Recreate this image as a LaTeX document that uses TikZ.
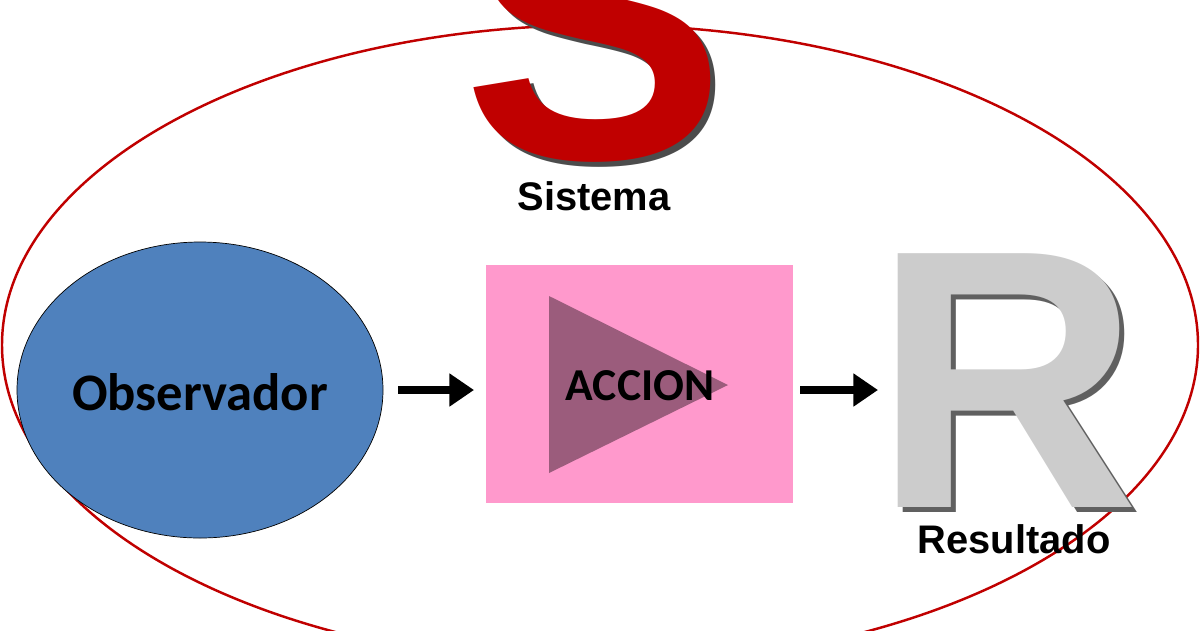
\documentclass[tikz,border=0pt]{standalone}
\usepackage{fontspec}
\setmainfont{Liberation Sans}
\newfontfamily\carlito{Carlito}
\usetikzlibrary{positioning,arrows.meta}
\definecolor{sysred}{HTML}{C00000}
\definecolor{obsblue}{HTML}{4F81BD}
\definecolor{accpink}{HTML}{FF99CC}
\definecolor{accmauve}{HTML}{9B5C7C}
\tikzset{
  flow/.style={-{Triangle[length=14pt,width=18pt]}, line width=5pt},
  lbl/.style={font=\bfseries\fontsize{22.7}{23}\selectfont},
}
\begin{document}
\begin{tikzpicture}[x=0.02cm,y=-0.02cm]
  \useasboundingbox (0,0) rectangle (1200,630);
  \clip (0,0) rectangle (1200,630);

  % system boundary
  \draw[sysred, line width=1.4pt] (600,345) ellipse [x radius=598, y radius=320];

  % big letters
  \node[text=gray!60!black, anchor=south, inner sep=0pt] at (599,168)
    {\bfseries\fontsize{225}{225}\selectfont S};
  \node[text=sysred, anchor=south, inner sep=0pt] (bigs) at (594,163)
    {\bfseries\fontsize{225}{225}\selectfont S};
  \node[lbl] (sis) at (594,196) {Sistema};

  % observer
  \draw[fill=obsblue] (200,390) ellipse [x radius=183, y radius=148];
  \node[font=\carlito\bfseries\fontsize{30}{30}\selectfont] (obs) at (200,392) {Observador};

  % action
  \fill[accpink] (486,265) rectangle (793,503);
  \fill[accmauve] (549,296) -- (549,473) -- (728,385) -- cycle;
  \node[font=\carlito\bfseries\fontsize{26}{26}\selectfont] (acc) at (640,386) {ACCION};

  % result
  \node[text=gray!75!black, anchor=south, inner sep=0pt] at (1012,513)
    {\bfseries\fontsize{210}{210}\selectfont R};
  \node[text=gray!40, anchor=south, inner sep=0pt] (bigr) at (1007,508)
    {\bfseries\fontsize{210}{210}\selectfont R};
  \node[lbl] (res) at (1014,539) {Resultado};

  % arrows
  \coordinate (a1s) at (398,390);
  \coordinate (a1e) at (474,390);
  \coordinate (a2s) at (800,390);
  \coordinate (a2e) at (878,390);
  \draw[flow] (a1s) -- (a1e);
  \draw[flow] (a2s) -- (a2e);
\end{tikzpicture}
\end{document}
